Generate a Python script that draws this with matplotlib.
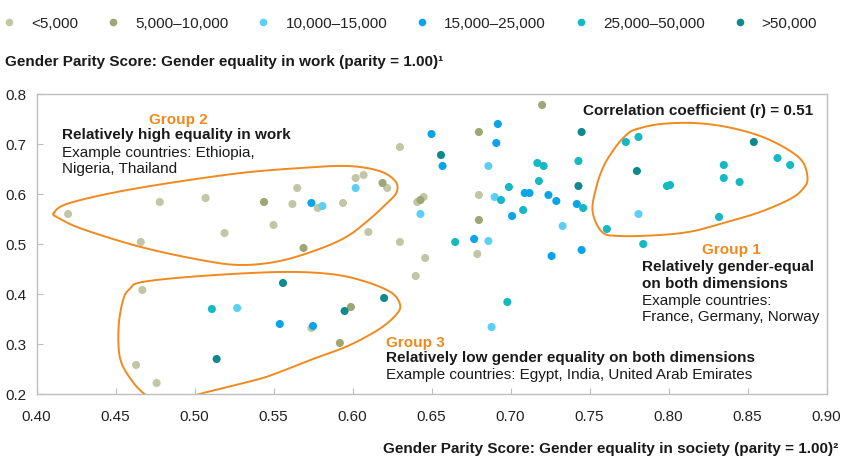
import numpy as np
import matplotlib
matplotlib.use("Agg")
import matplotlib.pyplot as plt
from matplotlib.lines import Line2D

plt.rcParams['font.family'] = ['Liberation Sans', 'DejaVu Sans']

# ---------------- data ----------------
categories = ["<5,000", "5,000–10,000", "10,000–15,000", "15,000–25,000", "25,000–50,000", ">50,000"]
colors = ["#c3c6a6", "#9ea673", "#5ccff4", "#0aa5e8", "#16b8c2", "#0e8a8e"]

society_lt5k = [0.420, 0.466, 0.478, 0.507, 0.519, 0.550, 0.562, 0.565, 0.578, 0.594, 0.602, 0.607, 0.622,
                0.610, 0.630, 0.630, 0.645, 0.641, 0.646, 0.640, 0.680, 0.679, 0.467, 0.463, 0.476, 0.574]
work_lt5k = [0.559, 0.503, 0.583, 0.591, 0.521, 0.537, 0.579, 0.611, 0.571, 0.581, 0.631, 0.637, 0.611,
             0.523, 0.693, 0.503, 0.593, 0.583, 0.471, 0.435, 0.597, 0.479, 0.407, 0.257, 0.221, 0.331]

society_5_10k = [0.544, 0.569, 0.619, 0.643, 0.680, 0.720, 0.680, 0.599, 0.592]
work_5_10k = [0.583, 0.491, 0.621, 0.587, 0.723, 0.777, 0.547, 0.373, 0.301]

society_10_15k = [0.581, 0.602, 0.643, 0.686, 0.690, 0.686, 0.733, 0.781, 0.527, 0.688]
work_10_15k = [0.575, 0.611, 0.559, 0.655, 0.593, 0.505, 0.535, 0.559, 0.371, 0.333]

society_15_25k = [0.574, 0.650, 0.692, 0.691, 0.657, 0.709, 0.712, 0.724, 0.729, 0.742, 0.701, 0.677,
                  0.726, 0.745, 0.554, 0.575]
work_15_25k = [0.581, 0.719, 0.739, 0.701, 0.655, 0.601, 0.601, 0.597, 0.585, 0.579, 0.555, 0.509,
               0.475, 0.487, 0.339, 0.335]

society_25_50k = [0.717, 0.721, 0.743, 0.718, 0.699, 0.694, 0.708, 0.746, 0.665, 0.773, 0.781, 0.761,
                  0.784, 0.799, 0.801, 0.835, 0.835, 0.845, 0.832, 0.869, 0.877, 0.511, 0.698]
work_25_50k = [0.661, 0.655, 0.665, 0.625, 0.613, 0.587, 0.567, 0.571, 0.503, 0.703, 0.713, 0.529,
               0.499, 0.615, 0.617, 0.657, 0.631, 0.623, 0.553, 0.671, 0.657, 0.369, 0.383]

society_gt50k = [0.656, 0.745, 0.743, 0.780, 0.854, 0.556, 0.514, 0.595, 0.620]
work_gt50k = [0.677, 0.723, 0.615, 0.645, 0.703, 0.421, 0.269, 0.365, 0.391]

series = [(society_lt5k, work_lt5k), (society_5_10k, work_5_10k), (society_10_15k, work_10_15k),
          (society_15_25k, work_15_25k), (society_25_50k, work_25_50k), (society_gt50k, work_gt50k)]

x_ticks = [0.40, 0.45, 0.50, 0.55, 0.60, 0.65, 0.70, 0.75, 0.80, 0.85, 0.90]
y_ticks = [0.2, 0.3, 0.4, 0.5, 0.6, 0.7, 0.8]

# group outlines (outline control points, data space)
group2_x = [0.411, 0.421, 0.461, 0.524, 0.567, 0.597, 0.617, 0.627, 0.628, 0.622, 0.611, 0.597, 0.579,
            0.554, 0.529, 0.504, 0.466, 0.429, 0.414]
group2_y = [0.561, 0.581, 0.609, 0.639, 0.651, 0.655, 0.645, 0.625, 0.603, 0.581, 0.549, 0.515, 0.489,
            0.465, 0.457, 0.467, 0.493, 0.529, 0.551]
group3_x = [0.467, 0.504, 0.554, 0.586, 0.607, 0.624, 0.630, 0.628, 0.617, 0.597, 0.575, 0.554, 0.541,
            0.508, 0.491, 0.478, 0.470, 0.461, 0.453, 0.452, 0.455, 0.459]
group3_y = [0.423, 0.435, 0.443, 0.439, 0.425, 0.403, 0.379, 0.359, 0.329, 0.295, 0.269, 0.243, 0.229,
            0.203, 0.189, 0.185, 0.195, 0.223, 0.269, 0.335, 0.389, 0.409]
group1_x = [0.780, 0.795, 0.816, 0.837, 0.858, 0.875, 0.885, 0.888, 0.885, 0.877, 0.858, 0.837, 0.816,
            0.795, 0.769, 0.758, 0.752, 0.754, 0.759, 0.767, 0.774]
group1_y = [0.729, 0.739, 0.741, 0.733, 0.715, 0.689, 0.663, 0.629, 0.609, 0.589, 0.563, 0.543, 0.525,
            0.517, 0.515, 0.523, 0.563, 0.609, 0.655, 0.695, 0.719]


def closed_spline(xs, ys, n=24):
    P = np.column_stack([xs, ys])
    N = len(P)
    t = np.linspace(0, 1, n, endpoint=False)[:, None]
    out = []
    for i in range(N):
        p0, p1, p2, p3 = P[i - 1], P[i], P[(i + 1) % N], P[(i + 2) % N]
        out.append(0.5 * (2 * p1 + (-p0 + p2) * t + (2 * p0 - 5 * p1 + 4 * p2 - p3) * t ** 2
                          + (-p0 + 3 * p1 - 3 * p2 + p3) * t ** 3))
    out = np.vstack(out)
    out = np.vstack([out, out[:1]])
    return out[:, 0], out[:, 1]


# ---------------- figure ----------------
fig = plt.figure(figsize=(8.44, 4.64), dpi=100)
ax = fig.add_axes([36.5 / 844, 1 - 394.5 / 464, 790 / 844, 300 / 464])

orange = "#f0891e"
for (gx, gy) in [(group2_x, group2_y), (group3_x, group3_y), (group1_x, group1_y)]:
    sx, sy = closed_spline(gx, gy)
    ax.plot(sx, sy, color=orange, lw=1.4, zorder=1)

for (xs, ys), c in zip(series, colors):
    ax.scatter(xs, ys, s=34, color=c, edgecolors='none', zorder=3)

ax.set_xlim(0.40, 0.90)
ax.set_ylim(0.2, 0.8)
ax.set_xticks(x_ticks)
ax.set_xticklabels([f"{v:.2f}" for v in x_ticks])
ax.set_yticks(y_ticks)
ax.set_yticklabels([f"{v:.1f}" for v in y_ticks])
for s in ax.spines.values():
    s.set_color("#bdbdbd")
    s.set_linewidth(1.0)
ax.tick_params(direction='in', length=4, color="#bdbdbd", labelsize=11, labelcolor="#222222")
ax.tick_params(axis='x', pad=11)
ax.tick_params(axis='y', pad=7.5)
ax.tick_params(top=False, right=False)

FS = 11
# annotations
txt = "#1a1a1a"
ax.text(0.4896, 0.749, "Group 2", color=orange, fontsize=FS, fontweight='bold', ha='center', va='center')
ax.text(0.4161, 0.719, "Relatively high equality in work", color=txt, fontsize=FS, fontweight='bold', va='center')
ax.text(0.4161, 0.683, "Example countries: Ethiopia,", color=txt, fontsize=FS, va='center')
ax.text(0.4161, 0.651, "Nigeria, Thailand", color=txt, fontsize=FS, va='center')

ax.text(0.8915, 0.767, "Correlation coefficient (r) = 0.51", color=txt, fontsize=FS, fontweight='bold',
        ha='right', va='center')

ax.text(0.8396, 0.489, "Group 1", color=orange, fontsize=FS, fontweight='bold', ha='center', va='center')
ax.text(0.783, 0.455, "Relatively gender-equal", color=txt, fontsize=FS, fontweight='bold', va='center')
ax.text(0.783, 0.421, "on both dimensions", color=txt, fontsize=FS, fontweight='bold', va='center')
ax.text(0.783, 0.387, "Example countries:", color=txt, fontsize=FS, va='center')
ax.text(0.783, 0.355, "France, Germany, Norway", color=txt, fontsize=FS, va='center')

ax.text(0.6212, 0.303, "Group 3", color=orange, fontsize=FS, fontweight='bold', va='center')
ax.text(0.6212, 0.273, "Relatively low gender equality on both dimensions", color=txt, fontsize=FS,
        fontweight='bold', va='center')
ax.text(0.6212, 0.239, "Example countries: Egypt, India, United Arab Emirates", color=txt, fontsize=FS,
        va='center')

# axis titles
fig.text(5 / 844, 1 - 62 / 464, "Gender Parity Score: Gender equality in work (parity = 1.00)¹",
         fontsize=FS, fontweight='bold', color=txt, va='center', ha='left')
fig.text(838 / 844, 1 - 449 / 464, "Gender Parity Score: Gender equality in society (parity = 1.00)²",
         fontsize=FS, fontweight='bold', color=txt, va='center', ha='right')

# legend
handles = [Line2D([], [], marker='o', linestyle='none', markersize=5.5, markerfacecolor=c,
                  markeredgecolor='none') for c in colors]
fig.legend(handles, categories, loc='center left', bbox_to_anchor=(0.0, 1 - 24 / 464), ncol=6,
           frameon=False, fontsize=FS, handlelength=1.0, handletextpad=0.94, columnspacing=1.79,
           borderaxespad=0, borderpad=0.1, labelcolor="#222222")

fig.savefig("out.png", dpi=100)
